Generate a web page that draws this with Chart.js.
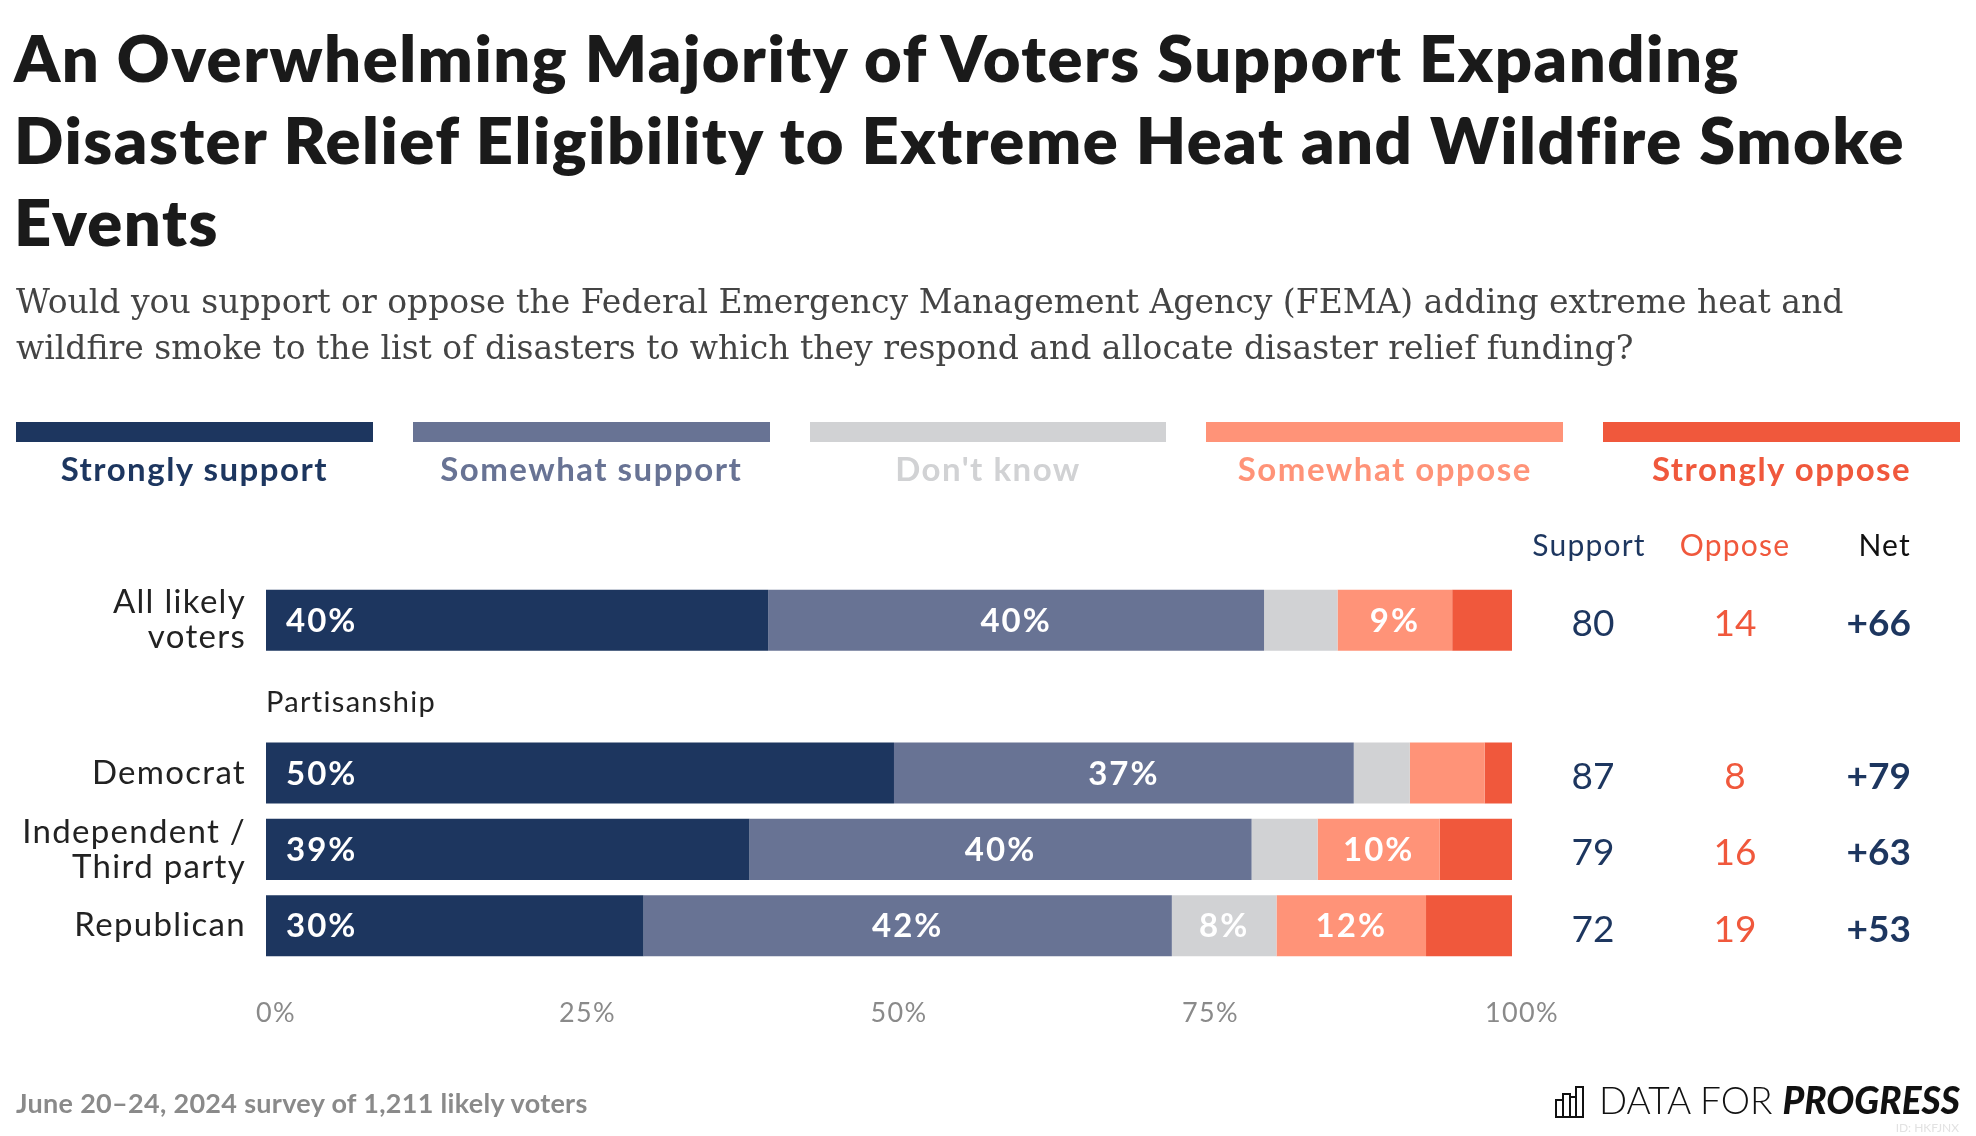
<!DOCTYPE html>
<html><head><meta charset="utf-8">
<script src="https://cdn.jsdelivr.net/npm/chart.js@4.4.1/dist/chart.umd.min.js"></script>
<style>
html,body{margin:0;padding:0;background:#fff;width:1976px;height:1136px;overflow:hidden;}
body{position:relative;font-family:Lato,"Open Sans",sans-serif;}
#chart{position:absolute;left:0;top:0;}
#title{position:absolute;left:14px;top:16px;font-weight:800;font-size:65px;line-height:82px;letter-spacing:1.5px;color:#1a1a1a;white-space:nowrap;}
#sub{position:absolute;left:16px;top:279px;font-family:"DejaVu Serif",serif;font-size:33px;line-height:46px;color:#444;white-space:nowrap;}
#legend{position:absolute;left:16px;top:422px;width:1944px;display:flex;gap:40px;}
.li{flex:1;}
.sw{height:20px;}
.lb{text-align:center;font-weight:700;font-size:33px;letter-spacing:1.5px;line-height:36px;margin-top:8px;}
#foot{position:absolute;left:16px;top:1087px;font-size:27px;letter-spacing:0.3px;line-height:32px;font-weight:700;color:#8a8a8a;}
#logo{position:absolute;right:16px;top:1082px;display:flex;align-items:flex-end;height:36px;color:#111;}
#logo svg{margin-right:14px;}
#logo .a{font-weight:300;font-size:37px;line-height:36px;}
#logo .b{font-weight:900;font-style:italic;font-size:37px;line-height:36px;margin-left:10px;}
#id{position:absolute;right:17px;top:1120px;font-size:12px;color:#e2e2e2;}
</style></head>
<body>
<canvas id="chart" width="1976" height="1136"></canvas>
<div id="title">An Overwhelming Majority of Voters Support Expanding<br>Disaster Relief Eligibility to Extreme Heat and Wildfire Smoke<br>Events</div>
<div id="sub">Would you support or oppose the Federal Emergency Management Agency (FEMA) adding extreme heat and<br>wildfire smoke to the list of disasters to which they respond and allocate disaster relief funding?</div>
<div id="legend"></div>
<div id="foot">June 20–24, 2024 survey of 1,211 likely voters</div>
<div id="logo"><svg width="30" height="32" viewBox="0 0 30 32"><g fill="none" stroke="#111" stroke-width="2"><rect x="1" y="14" width="7" height="17"/><rect x="8" y="8" width="7" height="23"/><rect x="15" y="11" width="6" height="20"/><rect x="21" y="1" width="7" height="30"/></g></svg><span class="a">DATA FOR</span><span class="b">PROGRESS</span></div>
<div id="id">ID: HKFJNX</div>
<script>
const categories = [["All likely", "voters"], "", "Democrat", ["Independent /", "Third party"], "Republican"];
const seriesNames = ["Strongly support", "Somewhat support", "Don't know", "Somewhat oppose", "Strongly oppose"];
const seriesColors = ["#1d365f", "#687394", "#d1d2d4", "#ff9378", "#f0583c"];
const stronglySupport = [40.3, null, 50.4, 38.8, 30.3];
const somewhatSupport = [39.8, null, 36.9, 40.3, 42.4];
const dontKnow = [5.9, null, 4.5, 5.3, 8.4];
const somewhatOppose = [9.2, null, 6.0, 9.8, 12.0];
const stronglyOppose = [4.8, null, 2.2, 5.8, 6.9];
const supportTotals = [80, null, 87, 79, 72];
const opposeTotals = [14, null, 8, 16, 19];
const netValues = [66, null, 79, 63, 53];
const xTicks = [0, 25, 50, 75, 100];
const groupHeaders = ["", "Partisanship", "", "", ""];
const columnHeaders = ["Support", "Oppose", "Net"];

const seriesValues = [stronglySupport, somewhatSupport, dontKnow, somewhatOppose, stronglyOppose];

// legend
const lg = document.getElementById('legend');
seriesNames.forEach((n, i) => {
  const d = document.createElement('div'); d.className = 'li';
  d.innerHTML = '<div class="sw" style="background:' + seriesColors[i] + '"></div><div class="lb" style="color:' + seriesColors[i] + '">' + n + '</div>';
  lg.appendChild(d);
});

const FONT = 'Lato, "Open Sans", sans-serif';

const labelsPlugin = {
  id: 'labelsPlugin',
  beforeDraw(chart) { chart.ctx.letterSpacing = '1.3px'; },
  afterDatasetsDraw(chart) {
    const ctx = chart.ctx;
    ctx.save();
    ctx.letterSpacing = '2px';
    ctx.font = '700 33px ' + FONT;
    ctx.fillStyle = '#ffffff';
    ctx.textBaseline = 'middle';
    chart.data.datasets.forEach((ds, i) => {
      const meta = chart.getDatasetMeta(i);
      meta.data.forEach((bar, j) => {
        const v = ds.data[j];
        if (v == null || v < 7.5) return;
        const t = Math.round(v) + '%';
        if (i === 0) { ctx.textAlign = 'left'; ctx.fillText(t, Math.min(bar.base, bar.x) + 20, bar.y + 1); }
        else { ctx.textAlign = 'center'; ctx.fillText(t, (bar.x + bar.base) / 2, bar.y + 1); }
      });
    });
    ctx.restore();
  },
  afterDraw(chart) {
    const ctx = chart.ctx, ys = chart.scales.y, area = chart.chartArea;
    ctx.save();
    ctx.textBaseline = 'middle';
    ctx.letterSpacing = '1.3px';
    ctx.font = '400 29px ' + FONT; ctx.fillStyle = '#222'; ctx.textAlign = 'left';
    groupHeaders.forEach((g, i) => { if (g) ctx.fillText(g, area.left, ys.getPixelForValue(i) + 6); });
    const supX = area.right + 81, oppX = area.right + 223, netX = area.right + 399;
    const hy = 546;
    ctx.letterSpacing = '1.2px';
    ctx.font = '400 30px ' + FONT;
    ctx.fillStyle = seriesColors[0]; ctx.textAlign = 'center'; ctx.fillText(columnHeaders[0], supX - 4, hy);
    ctx.fillStyle = seriesColors[4]; ctx.fillText(columnHeaders[1], oppX, hy);
    ctx.fillStyle = '#111'; ctx.textAlign = 'right'; ctx.fillText(columnHeaders[2], netX, hy);
    ctx.letterSpacing = '0px';
    categories.forEach((c, i) => {
      if (supportTotals[i] == null) return;
      const y = ys.getPixelForValue(i) + 4;
      ctx.font = '400 37px ' + FONT;
      ctx.fillStyle = seriesColors[0]; ctx.textAlign = 'center'; ctx.fillText(String(supportTotals[i]), supX, y);
      ctx.fillStyle = seriesColors[4]; ctx.fillText(String(opposeTotals[i]), oppX, y);
      ctx.font = '700 37px ' + FONT;
      ctx.fillStyle = seriesColors[0]; ctx.textAlign = 'right'; ctx.fillText('+' + netValues[i], netX, y);
    });
    ctx.restore();
  }
};

new Chart(document.getElementById('chart'), {
  type: 'bar',
  data: {
    labels: categories,
    datasets: seriesNames.map((n, i) => ({
      label: n, data: seriesValues[i], backgroundColor: seriesColors[i],
      borderWidth: 0, barPercentage: 0.8, categoryPercentage: 1
    }))
  },
  options: {
    indexAxis: 'y',
    responsive: false,
    animation: false,
    devicePixelRatio: 1,
    layout: { padding: { left: 0, right: 464, top: 582, bottom: 92 } },
    plugins: { legend: { display: false }, tooltip: { enabled: false }, title: { display: false } },
    scales: {
      x: {
        stacked: true, min: 0, max: 100,
        afterBuildTicks(s) { s.ticks = xTicks.map(v => ({ value: v })); },
        afterFit(s) { s.height = 80; },
        grid: { display: false, drawTicks: false }, border: { display: false },
        ticks: { callback: v => v + '%', font: { family: FONT, size: 27 }, color: '#8a8a8a', padding: 33, labelOffset: 10, maxRotation: 0 }
      },
      y: {
        stacked: true,
        afterFit(s) { s.width = 266; },
        grid: { display: false, drawTicks: false }, border: { display: false },
        ticks: { font: { family: FONT, size: 33, lineHeight: 1.06 }, color: '#222', padding: 20, autoSkip: false }
      }
    }
  },
  plugins: [labelsPlugin]
});
</script>
</body></html>
